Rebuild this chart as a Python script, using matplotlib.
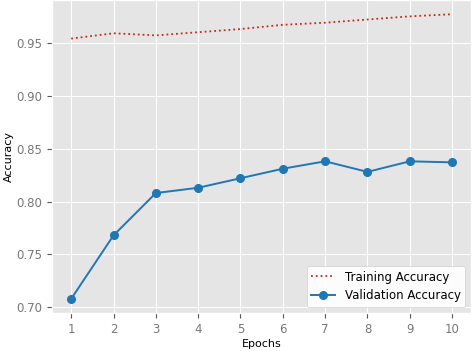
import matplotlib
matplotlib.use("Agg")
import matplotlib.pyplot as plt

plt.style.use("ggplot")

epochs = [1, 2, 3, 4, 5, 6, 7, 8, 9, 10]
train_acc = [0.954, 0.959, 0.957, 0.960, 0.963, 0.967, 0.969, 0.972, 0.975, 0.977]
val_acc = [0.708, 0.768, 0.808, 0.813, 0.822, 0.831, 0.838, 0.828, 0.838, 0.837]
yticks = [0.70, 0.75, 0.80, 0.85, 0.90, 0.95]

fig = plt.figure(figsize=(4.74, 3.51), dpi=100)
ax = fig.add_axes([0.110, 0.108, 0.884, 0.892])

ax.plot(epochs, train_acc, linestyle=":", color="#c62a1c", linewidth=1.3,
        label="Training Accuracy")
ax.plot(epochs, val_acc, marker="o", color="#1f77b4", linewidth=1.4,
        markersize=5.5, label="Validation Accuracy")

ax.set_xticks(epochs)
ax.set_yticks(yticks)
ax.tick_params(labelsize=8.5, colors="#555555", labelcolor="#777777")
ax.set_xlabel("Epochs", fontsize=8, color="black", labelpad=2)
ax.set_ylabel("Accuracy", fontsize=8, color="black", labelpad=2)
ax.legend(loc="lower right", fontsize=8.5, facecolor="white", framealpha=0.9)

fig.savefig("out.png", dpi=100)
